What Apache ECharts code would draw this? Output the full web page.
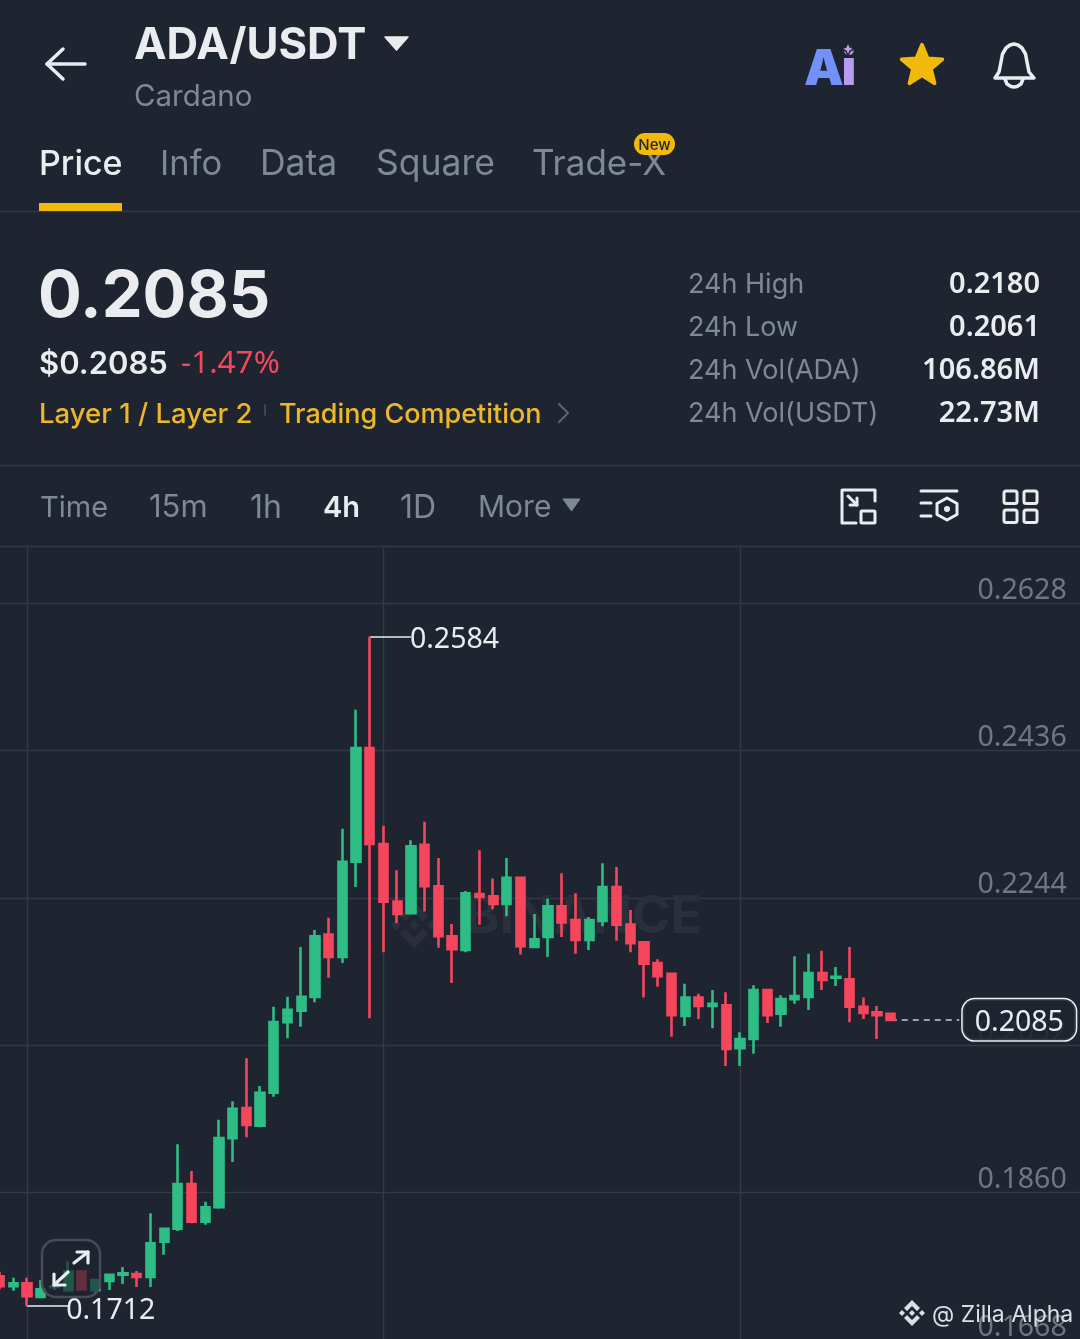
<!DOCTYPE html>
<html><head><meta charset="utf-8">
<style>html,body{margin:0;padding:0;background:#1e2530}#c{width:1080px;height:1339px}</style>
<script src="https://cdn.jsdelivr.net/npm/echarts@6/dist/echarts.min.js"></script>
</head><body><div id="c"></div>
<script>
const opens = [.1751,.1738,.1742,.1724,.1737,.1733,.1757,.1733,.1745,.1753,.1754,.1750,.1796,.1813,.1871,.1822,.1841,.1931,.1970,.1947,.1990,.2082,.2097,.2115,.2196,.2167,.2291,.2439,.2314,.2239,.2224,.2313,.2259,.2194,.2176,.2249,.2246,.2236,.2270,.2180,.2193,.2233,.2215,.2189,.2214,.2258,.2209,.2186,.2159,.2145,.2090,.2114,.2103,.2104,.2048,.2060,.2124,.2093,.2112,.2115,.2146,.2140,.2138,.2102,.2095,.2093];
const closes = [.1738,.1742,.1725,.1734,.1738,.1757,.1734,.1746,.1753,.1755,.1750,.1794,.1813,.1871,.1822,.1841,.1931,.1969,.1948,.1990,.2082,.2098,.2115,.2194,.2167,.2291,.2439,.2314,.2239,.2223,.2311,.2259,.2194,.2177,.2250,.2245,.2236,.2270,.2181,.2190,.2233,.2212,.2189,.2215,.2258,.2209,.2185,.2158,.2142,.2091,.2114,.2103,.2106,.2047,.2060,.2124,.2091,.2112,.2116,.2146,.2137,.2141,.2102,.2094,.2091,.2085];
const lows = [.1734,.1732,.1712,.1723,.1733,.1731,.1733,.1729,.1733,.1741,.1737,.1737,.1779,.1810,.1820,.1818,.1839,.1900,.1932,.1945,.1985,.2061,.2076,.2108,.2140,.2159,.2258,.2087,.2173,.2211,.2223,.2226,.2179,.2133,.2173,.2209,.2229,.2220,.2170,.2180,.2167,.2193,.2171,.2176,.2207,.2188,.2173,.2114,.2128,.2063,.2077,.2086,.2074,.2025,.2025,.2041,.2081,.2076,.2106,.2098,.2124,.2129,.2082,.2086,.2060,.2085];
const highs = [.1757,.1749,.1749,.1746,.1742,.1770,.1758,.1747,.1754,.1763,.1758,.1833,.1814,.1923,.1888,.1848,.1955,.1979,.2035,.1999,.2102,.2115,.2180,.2202,.2218,.2334,.2489,.2584,.2338,.2280,.2319,.2343,.2296,.2210,.2253,.2306,.2269,.2296,.2271,.2223,.2243,.2276,.2250,.2219,.2289,.2284,.2228,.2186,.2164,.2145,.2132,.2119,.2124,.2121,.2069,.2130,.2124,.2117,.2168,.2171,.2175,.2154,.2180,.2114,.2103,.2094];
const yTicks = [.1668,.1860,.2052,.2244,.2436,.2628];
const emptySlots = 14;
const categories = opens.map((_, i) => 'K' + i).concat(Array.from({length: emptySlots}, (_, i) => 'E' + i));
const lastPrice = .2085, highMark = .2584, lowMark = .1712;

const BG = '#1e2530', WHITE = '#eaecef', GRAY = '#7f8896', YEL = '#ecb72a', STAR = '#f0b90b', GREEN = '#2ebd85', RED = '#f6465d', LINE = '#333a45';
const FONT = 'Inter', NUM = 'Noto Sans';
const g = [];
const T = (x, y, text, size, fill, weight, align, z, fam) => g.push({type: 'text', x, y: y + 0.07 * size, z: z || 5, style: {text, fontFamily: fam || FONT, fontSize: size, fontWeight: weight || 400, fill, textAlign: align || 'left', textVerticalAlign: 'middle'}});
const L = (pts, stroke, w, z, dash) => g.push({type: 'polyline', z: z || 5, shape: {points: pts}, style: {stroke, lineWidth: w, fill: null, lineCap: 'round', lineJoin: 'round', lineDash: dash}});
const P = (pts, fill, stroke, w, z) => g.push({type: 'polygon', z: z || 5, shape: {points: pts}, style: {fill: fill || null, stroke: stroke || null, lineWidth: w || 0, lineJoin: 'round'}});
const R = (x, y, w, h, r, fill, stroke, lw, z) => g.push({type: 'rect', z: z || 5, shape: {x, y, width: w, height: h, r}, style: {fill: fill || null, stroke: stroke || null, lineWidth: lw || 0}});
const logo = (cx, cy, s, c, z) => {
  const m = a => a.map(p => [cx + p[0] * s, cy + p[1] * s]);
  P(m([[0, -13], [8, -5], [5, -2], [0, -7], [-5, -2], [-8, -5]]), c, null, 0, z);
  P(m([[0, 13], [8, 5], [5, 2], [0, 7], [-5, 2], [-8, 5]]), c, null, 0, z);
  P(m([[0, -3], [3, 0], [0, 3], [-3, 0]]), c, null, 0, z);
  P(m([[-10, -3], [-7, 0], [-10, 3], [-13, 0]]), c, null, 0, z);
  P(m([[10, -3], [13, 0], [10, 3], [7, 0]]), c, null, 0, z);
};

// header
L([[47, 64], [85, 64]], WHITE, 3.5); L([[63, 49], [47, 64], [63, 79]], WHITE, 3.5);
T(134, 43, 'ADA/USDT', 43.7, WHITE, 700);
P([[385, 37], [408, 37], [396.5, 50]], WHITE, WHITE, 1.5);
T(134, 95, 'Cardano', 29.5, GRAY);
T(804, 66, 'A', 50, '#7390f8', 900);
T(841.5, 66, 'i', 50, '#b79df0', 900);
P([[848, 42], [850, 47], [855, 49], [850, 51], [848, 56], [846, 51], [841, 49], [846, 47]], '#c7a2ee', BG, 1.5, 6);
const star = []; for (let i = 0; i < 10; i++) { const r = i % 2 ? 9.6 : 21.5, a = -Math.PI / 2 + i * Math.PI / 5; star.push([922 + r * Math.cos(a), 66 + r * Math.sin(a)]); }
P(star, STAR, STAR, 3.5);
P([[995, 78], [999, 72], [1001, 62], [1002.5, 54], [1006, 48], [1010, 45], [1014, 44], [1018, 45], [1022, 48], [1025.5, 54], [1027, 62], [1029, 72], [1034, 78]], null, WHITE, 3.5);
L([[1005, 79], [1007, 84], [1011, 86.5], [1014, 87], [1017, 86.5], [1021, 84], [1023, 79]], WHITE, 3.5);

// tabs
T(39, 162, 'Price', 34, WHITE, 500);
T(160, 162, 'Info', 34.5, GRAY); T(260, 162, 'Data', 35.5, GRAY); T(376, 162, 'Square', 35.5, GRAY); T(532, 162, 'Trade-X', 35, GRAY);
R(634, 133, 41, 22, 11, STAR);
T(654.5, 144, 'New', 15, '#1e2530', 500, 'center', 6);
R(39, 203, 83, 8, 0, STAR);
L([[0, 211.5], [1080, 211.5]], LINE, 1.5, 1);

// price block
T(38, 293, '0.2085', 65, WHITE, 700);
T(39, 363, '$0.2085', 31, WHITE, 600);
T(181, 362, '-1.47%', 31.5, RED, 400, 'left', 5, NUM);
T(39, 413, 'Layer 1 / Layer 2', 27.5, YEL, 500);
L([[265, 405], [265, 415]], '#4a505b', 1.5);
T(279, 413, 'Trading Competition', 27, YEL, 500);
L([[559, 404], [568, 413], [559, 422]], '#5b6370', 2.2);
const statLabels = ['24h High', '24h Low', '24h Vol(ADA)', '24h Vol(USDT)'];
const statValues = ['0.2180', '0.2061', '106.86M', '22.73M'];
statLabels.forEach((s, i) => { T(688, 283 + i * 43, s, 27, GRAY); T(1040, 283 + i * 43, statValues[i], 29, WHITE, 600, 'right', 5, NUM); });
L([[0, 465.5], [1080, 465.5]], LINE, 1.5, 1);

// interval row
T(40, 506, 'Time', 29, GRAY); T(149, 506, '15m', 31, GRAY); T(250, 506, '1h', 32, GRAY);
T(323, 506, '4h', 29, WHITE, 600); T(400, 506, '1D', 32, GRAY); T(478, 506, 'More', 30, GRAY);
P([[563, 499], [580, 499], [571.5, 511]], GRAY, GRAY, 1);
L([[856, 523], [842, 523], [842, 490], [875, 490], [875, 501]], WHITE, 3);
R(861, 511, 14, 12, 1, null, WHITE, 3);
L([[848, 496], [857, 505]], WHITE, 3); L([[857, 498], [857, 505], [850, 505]], WHITE, 3);
L([[921, 491], [957, 491]], WHITE, 3); L([[921, 503], [931, 503]], WHITE, 3); L([[921, 516], [931, 516]], WHITE, 3);
P([[947, 498], [957, 503.5], [957, 514.5], [947, 520], [937, 514.5], [937, 503.5]], null, WHITE, 3);
g.push({type: 'circle', z: 5, shape: {cx: 947, cy: 509, r: 3}, style: {fill: WHITE}});
[[1004, 491], [1024, 491], [1004, 510], [1024, 510]].forEach(p => R(p[0], p[1], 13, 12.5, 2, null, WHITE, 3));
L([[0, 546.5], [1080, 546.5]], LINE, 1.5, 1);

// watermarks & overlay
logo(414, 925, 1.8, '#2a303b', 1);
T(465, 914, 'BINANCE', 52, '#2a303b', 700, 'left', 1);
R(42, 1240, 58, 57, 14, 'rgba(30,37,47,0.68)', '#474d58', 2.5, 20);
L([[74, 1263], [88, 1252]], WHITE, 3.2, 21); L([[77, 1252], [88, 1252], [88, 1263]], WHITE, 3.2, 21);
L([[54, 1285], [68, 1272]], WHITE, 3.2, 21); L([[54, 1274], [54, 1285], [65, 1285]], WHITE, 3.2, 21);
logo(912, 1313, 1, '#dcdfe3', 30);
T(932, 1313, '@ Zilla Alpha', 23, '#dcdfe3', 400, 'left', 30);

const markStyle = {color: WHITE, width: 1.6, type: 'solid'};
const richText = (pad, lh) => ({a: {color: WHITE, fontFamily: NUM, fontSize: 28.5, lineHeight: lh, padding: [pad, 0, 0, 0]}});
const lbl = (v, dist, pad) => ({show: true, position: 'end', distance: dist, formatter: '{a|' + v.toFixed(4) + '}', rich: richText(pad, 30)});
const chart = echarts.init(document.getElementById('c'), null, {renderer: 'canvas'});
chart.setOption({
  animation: false,
  backgroundColor: BG,
  graphic: g,
  grid: {left: -0.4, width: 1083.1, top: 546.5, height: 793.5, containLabel: false, outerBoundsMode: 'none'},
  xAxis: {type: 'category', data: categories, boundaryGap: false,
    axisLine: {show: false}, axisTick: {show: false}, axisLabel: {show: false},
    splitLine: {show: true, interval: i => (i - 2) % 26 === 0, lineStyle: {color: LINE, width: 1.4}}},
  yAxis: {type: 'value', position: 'right', min: .1668, max: .27016, scale: true,
    axisLine: {show: false},
    axisTick: {show: false, customValues: yTicks},
    axisLabel: {customValues: yTicks, inside: true, margin: 16, verticalAlign: 'bottom', lineHeight: 25,
      color: '#6f7784', fontFamily: NUM, fontSize: 28.5, formatter: v => v.toFixed(4)},
    splitLine: {show: true, lineStyle: {color: LINE, width: 1.4}}},
  series: [{type: 'candlestick', barWidth: 8.7, z: 3,
    data: opens.map((o, i) => [o, closes[i], lows[i], highs[i]]),
    itemStyle: {color: GREEN, color0: RED, borderColor: GREEN, borderColor0: RED, borderWidth: 2.6},
    markLine: {silent: true, symbol: 'none', z: 1, animation: false,
      data: [
        [{coord: [27, highMark], lineStyle: markStyle, label: lbl(highMark, -1, 6)}, {coord: [30, highMark]}],
        [{coord: [2, lowMark], lineStyle: markStyle, label: lbl(lowMark, -2, 10)}, {coord: [5, lowMark]}],
        [{coord: [65, lastPrice], lineStyle: {color: '#c9ccd2', width: 1.6, type: [6, 5]},
          label: {show: true, position: 'end', distance: 3.4, formatter: '{a|' + lastPrice.toFixed(4) + '}', rich: richText(6, 26),
            padding: [7.5, 12], backgroundColor: 'rgba(30,37,48,0.9)', borderColor: WHITE, borderWidth: 1.5, borderRadius: 12}},
         {coord: [70, lastPrice]}]
      ]}}]
});
</script></body></html>
